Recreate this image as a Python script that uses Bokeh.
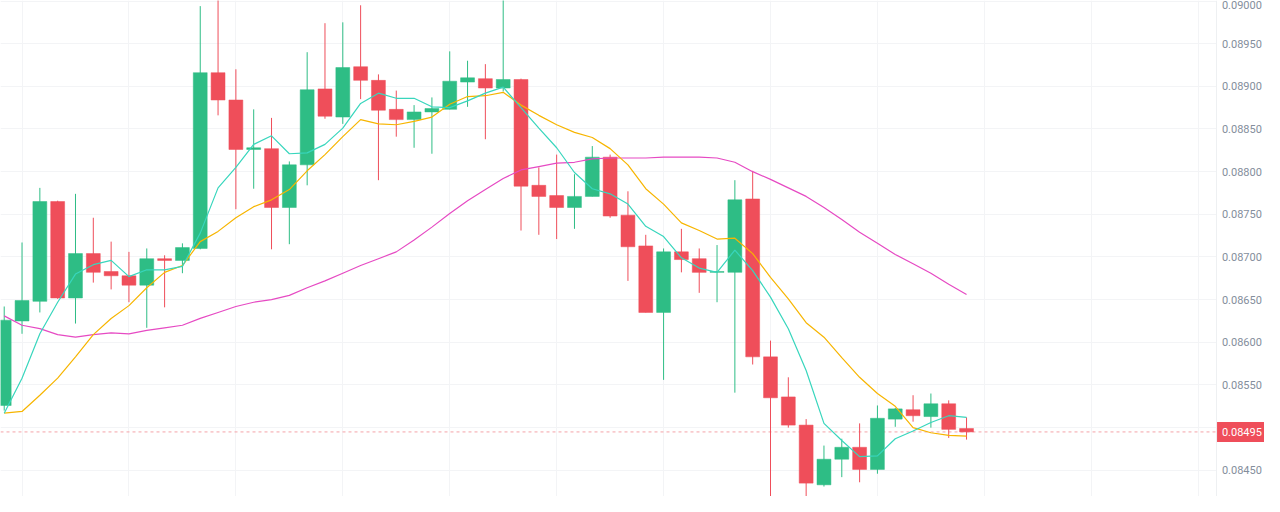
from bokeh.plotting import figure
from bokeh.models import ColumnDataSource, FixedTicker, Range1d, Grid, Span
from bokeh.core.properties import value
from bokeh.embed import file_html
from bokeh.resources import INLINE

opens = [0.08526, 0.08625, 0.08648, 0.08765, 0.08652, 0.08704, 0.08683, 0.08678, 0.08667, 0.08698,
         0.08696, 0.08710, 0.08916, 0.08884, 0.08826, 0.08827, 0.08758, 0.08808, 0.08897, 0.08864,
         0.08923, 0.08907, 0.08873, 0.08861, 0.08870, 0.08873, 0.08905, 0.08909, 0.08898, 0.08908,
         0.08784, 0.08772, 0.08758, 0.08771, 0.08817, 0.08749, 0.08713, 0.08635, 0.08706, 0.08698,
         0.08682, 0.08682, 0.08768, 0.08583, 0.08536, 0.08503, 0.08433, 0.08463, 0.08477, 0.08451,
         0.08510, 0.08521, 0.08513, 0.08528, 0.08499]
highs = [0.08642, 0.08717, 0.08781, 0.08766, 0.08774, 0.08746, 0.08718, 0.08706, 0.08710, 0.08702,
         0.08716, 0.08994, 0.09010, 0.08920, 0.08873, 0.08863, 0.08812, 0.08940, 0.08974, 0.08975,
         0.08995, 0.08914, 0.08895, 0.08878, 0.08887, 0.08941, 0.08930, 0.08926, 0.09012, 0.08909,
         0.08805, 0.08820, 0.08797, 0.08830, 0.08820, 0.08777, 0.08726, 0.08710, 0.08733, 0.08710,
         0.08714, 0.08790, 0.08801, 0.08602, 0.08559, 0.08510, 0.08479, 0.08487, 0.08505, 0.08526,
         0.08523, 0.08538, 0.08540, 0.08532, 0.08512]
lows = [0.08520, 0.08610, 0.08635, 0.08651, 0.08622, 0.08670, 0.08662, 0.08647, 0.08617, 0.08641,
        0.08681, 0.08709, 0.08866, 0.08756, 0.08780, 0.08709, 0.08715, 0.08784, 0.08862, 0.08856,
        0.08885, 0.08790, 0.08841, 0.08828, 0.08821, 0.08873, 0.08876, 0.08838, 0.08894, 0.08731,
        0.08726, 0.08721, 0.08733, 0.08771, 0.08746, 0.08672, 0.08635, 0.08556, 0.08682, 0.08658,
        0.08647, 0.08541, 0.08574, 0.08390, 0.08500, 0.08396, 0.08431, 0.08442, 0.08436, 0.08446,
        0.08501, 0.08507, 0.08500, 0.08488, 0.08486]
closes = [0.08626, 0.08649, 0.08765, 0.08652, 0.08704, 0.08682, 0.08678, 0.08667, 0.08698, 0.08696,
          0.08711, 0.08916, 0.08884, 0.08826, 0.08828, 0.08758, 0.08808, 0.08896, 0.08865, 0.08922,
          0.08907, 0.08872, 0.08861, 0.08870, 0.08874, 0.08906, 0.08910, 0.08898, 0.08908, 0.08783,
          0.08771, 0.08758, 0.08771, 0.08817, 0.08748, 0.08712, 0.08635, 0.08706, 0.08697, 0.08682,
          0.08683, 0.08767, 0.08583, 0.08535, 0.08503, 0.08435, 0.08463, 0.08477, 0.08451, 0.08511,
          0.08522, 0.08514, 0.08528, 0.08498, 0.08495]

ma7 = [0.08517, 0.08558, 0.08610, 0.08647, 0.08680, 0.08691, 0.08696, 0.08677, 0.08685, 0.08685,
       0.08689, 0.08728, 0.08781, 0.08805, 0.08832, 0.08842, 0.08821, 0.08822, 0.08832, 0.08851,
       0.08880, 0.08892, 0.08886, 0.08886, 0.08876, 0.08875, 0.08883, 0.08892, 0.08899, 0.08875,
       0.08851, 0.08828, 0.08799, 0.08780, 0.08774, 0.08762, 0.08736, 0.08724, 0.08699, 0.08687,
       0.08682, 0.08708, 0.08684, 0.08653, 0.08616, 0.08567, 0.08505, 0.08485, 0.08466, 0.08467,
       0.08487, 0.08496, 0.08506, 0.08514, 0.08512]
ma25 = [0.08517, 0.08519, 0.08538, 0.08558, 0.08583, 0.08609, 0.08628, 0.08643, 0.08664, 0.08682,
        0.08690, 0.08718, 0.08730, 0.08746, 0.08759, 0.08767, 0.08779, 0.08801, 0.08820, 0.08841,
        0.08861, 0.08856, 0.08855, 0.08859, 0.08864, 0.08879, 0.08888, 0.08889, 0.08893, 0.08878,
        0.08866, 0.08855, 0.08846, 0.08840, 0.08827, 0.08808, 0.08780, 0.08762, 0.08740, 0.08731,
        0.08721, 0.08722, 0.08704, 0.08676, 0.08651, 0.08623, 0.08606, 0.08582, 0.08559, 0.08540,
        0.08525, 0.08500, 0.08494, 0.08491, 0.08490]
ma99 = [0.08631, 0.08620, 0.08616, 0.08609, 0.08606, 0.08609, 0.08611, 0.08610, 0.08614, 0.08617,
        0.08620, 0.08628, 0.08635, 0.08642, 0.08647, 0.08650, 0.08655, 0.08664, 0.08672, 0.08681,
        0.08690, 0.08698, 0.08706, 0.08720, 0.08735, 0.08751, 0.08766, 0.08779, 0.08792, 0.08802,
        0.08806, 0.08810, 0.08811, 0.08815, 0.08816, 0.08816, 0.08816, 0.08817, 0.08817, 0.08817,
        0.08816, 0.08811, 0.08800, 0.08791, 0.08781, 0.08771, 0.08758, 0.08744, 0.08729, 0.08716,
        0.08703, 0.08692, 0.08681, 0.08668, 0.08656]

price_ticks = [0.0845, 0.0855, 0.0860, 0.0865, 0.0870, 0.0875, 0.0880, 0.0885, 0.0890, 0.0895]
top_tick = 0.0900
grid_ticks = [0.0840, 0.0845, 0.0850, 0.0855, 0.0860, 0.0865, 0.0870, 0.0875, 0.0880, 0.0885, 0.0890, 0.0895, 0.0900]
time_grid = [1, 7, 13, 19, 25, 31, 37, 43, 49, 55, 61, 67]
last_price = 0.08495

GREEN = "#2ebd85"
RED = "#ef4e5a"
GRID = "#f3f4f6"
LABEL_COLOR = "#848e9c"

# ranges (the price scale strip sits at the right end of the x range)
X0, X1 = -0.208, 70.72
Y0, Y1 = 0.0841932, 0.0900059
AXIS_X = 68.03          # left edge of the price-scale strip
LABEL_X = 68.33         # start of the price labels
BOX_HALF = 0.000117     # half height of the last-price tag

idx = list(range(len(opens)))
colors = [GREEN if c >= o else RED for o, c in zip(opens, closes)]
src = ColumnDataSource(dict(
    x=idx, o=opens, h=highs, l=lows, c=closes,
    top=[max(o, c) for o, c in zip(opens, closes)],
    bot=[min(o, c) for o, c in zip(opens, closes)],
    color=colors, ma7=ma7, ma25=ma25, ma99=ma99,
))

p = figure(width=1264, height=496, output_backend="svg", toolbar_location=None,
           x_axis_location=None, y_axis_location=None,
           x_range=Range1d(X0, X1), y_range=Range1d(Y0, Y1))
p.min_border = 0
p.outline_line_color = None
p.background_fill_color = "white"
p.border_fill_color = "white"

if len(p.xgrid) == 0:
    p.add_layout(Grid(dimension=0))
if len(p.ygrid) == 0:
    p.add_layout(Grid(dimension=1))
for g in p.xgrid:
    g.ticker = FixedTicker(ticks=time_grid)
    g.grid_line_color = GRID
for g in p.ygrid:
    g.ticker = FixedTicker(ticks=grid_ticks)
    g.grid_line_color = GRID

# last price dashed line across the chart area
p.segment(x0=[X0], y0=[last_price], x1=[AXIS_X], y1=[last_price],
          line_color="#f4a3a9", line_dash="3 3", line_width=1)

# candles
p.segment(x0="x", y0="h", x1="x", y1="l", source=src, line_color="color", line_width=1)
p.vbar(x="x", width=0.78, top="top", bottom="bot", source=src,
       fill_color="color", line_color="color", line_width=0.5)

# moving averages
p.line("x", "ma99", source=src, line_color="#e64ac3", line_width=1.2)
p.line("x", "ma25", source=src, line_color="#f7b500", line_width=1.2)
p.line("x", "ma7", source=src, line_color="#38d6bd", line_width=1.2)

# price scale strip
p.quad(left=[AXIS_X], right=[X1 + 1], bottom=[Y0 - 0.001], top=[Y1 + 0.001],
       fill_color="white", line_color=None)
p.add_layout(Span(location=AXIS_X, dimension="height", line_color="#eef0f2", line_width=1))
p.text(x=[LABEL_X] * len(price_ticks), y=price_ticks, text=["%.5f" % t for t in price_ticks],
       text_align="left", text_baseline="middle", text_color=LABEL_COLOR,
       text_font=value("Roboto"), text_font_size="11px")
p.text(x=[LABEL_X], y=[top_tick], text=["%.5f" % top_tick],
       text_align="left", text_baseline="top", text_color=LABEL_COLOR,
       text_font=value("Roboto"), text_font_size="11px")

# last price tag
p.quad(left=[AXIS_X], right=[X1 + 1], bottom=[last_price - BOX_HALF], top=[last_price + BOX_HALF],
       fill_color=RED, line_color=None)
p.text(x=[LABEL_X], y=[last_price], text=["%.5f" % last_price],
       text_align="left", text_baseline="middle", text_color="white",
       text_font=value("Roboto"), text_font_size="11px")

open("out.html", "w").write(file_html(p, INLINE))
